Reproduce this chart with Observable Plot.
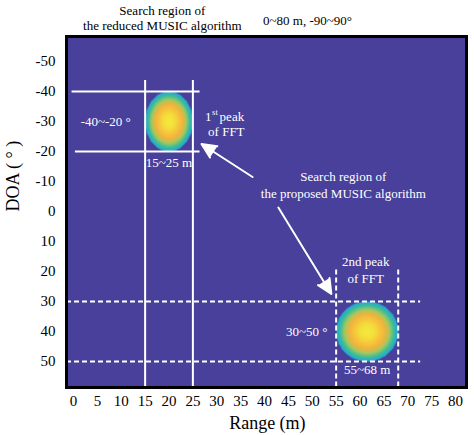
<!DOCTYPE html>
<html>
<head>
<meta charset="utf-8">
<script src="https://cdn.jsdelivr.net/npm/d3@7"></script>
<script src="https://cdn.jsdelivr.net/npm/@observablehq/plot@0.6"></script>
<style>
  body { margin: 0; background: #fff; }
</style>
</head>
<body>
<div id="chart"></div>
<script>
// Axis ticks
const rangeTicks = d3.range(0, 81, 5);      // m
const doaTicks = d3.range(-50, 51, 10);     // degrees

// Search boxes around the two FFT peaks
const peakRangeLo = [15, 55];
const peakRangeHi = [25, 68];
const peakDoaLo = [-40, 30];
const peakDoaHi = [-20, 50];

// Colour ramp for the peak intensity (cyan edge to yellow top)
const rampStops = [0.35, 0.48, 0.62, 0.76, 0.9, 1];
const rampColors = ["#1fa6d6", "#3dbd9a", "#a6c85c", "#f2b23e", "#f6c83a", "#f3e73c"];

const bg = "#48409a";
const white = "#ffffff";

// Intensity of a peak at (x, y): smooth falloff, cut at the box-inscribed ellipse
function field(x, y) {
  let best;
  for (let i = 0; i < peakRangeLo.length; ++i) {
    const cx = (peakRangeLo[i] + peakRangeHi[i]) / 2;
    const cy = (peakDoaLo[i] + peakDoaHi[i]) / 2;
    const ax = (peakRangeHi[i] - peakRangeLo[i]) / 2;
    const ay = (peakDoaHi[i] - peakDoaLo[i]) / 2;
    const r2 = ((x - cx) / ax) ** 2 + ((y - cy) / ay) ** 2;
    if (r2 <= 1) {
      const v = Math.exp(-1.05 * Math.pow(r2, 1.2));
      if (best === undefined || v > best) best = v;
    }
  }
  return best;
}

const xMin = -1.466, xMax = 82.3;
const yMin = -58.33, yMax = 58.67;

// Solid lines: reduced MUSIC search box around the 1st peak
const solidH = [peakDoaLo[0], peakDoaHi[0]];
const solidV = [peakRangeLo[0], peakRangeHi[0]];
// Dashed lines: proposed MUSIC search box around the 2nd peak
const dashH = [peakDoaLo[1], peakDoaHi[1]];
const dashV = [peakRangeLo[1], peakRangeHi[1]];

const txt = (s, o) => Plot.text([s], {text: d => d, fill: white, fontSize: 13, ...o});

const chart = Plot.plot({
  width: 474,
  height: 435,
  marginLeft: 66,
  marginRight: 8,
  marginTop: 36,
  marginBottom: 48,
  style: {fontFamily: "Liberation Serif", fontSize: "15px", color: "black", background: "white"},
  x: {domain: [xMin, xMax]},
  y: {domain: [yMin, yMax], reverse: true},
  color: {type: "linear", domain: rampStops, range: rampColors, clamp: true},
  marks: [
    Plot.frame({fill: bg}),
    Plot.raster({fill: field, x1: xMin, x2: xMax, y1: yMin, y2: yMax, pixelSize: 1}),

    // reduced search region (solid)
    Plot.ruleY(solidH, {y: d => d, x1: (d, i) => (i === 0 ? -0.3 : 0.4), x2: peakRangeHi[0] + 1.5,
      stroke: white, strokeWidth: 2}),
    Plot.ruleX(solidV, {x: d => d, y1: peakDoaLo[0] - 3.7, y2: yMax, stroke: white, strokeWidth: 2}),

    // proposed search region (dashed)
    Plot.ruleY(dashH, {y: d => d, x1: xMin, x2: peakRangeHi[1] + 4.7,
      stroke: white, strokeWidth: 2, strokeDasharray: "5,3"}),
    Plot.ruleX(dashV, {x: d => d, y1: peakDoaLo[1] - 10.5, y2: yMax,
      stroke: white, strokeWidth: 2, strokeDasharray: "5,3"}),

    // annotations inside the plot
    txt(`${peakDoaLo[0]}~${peakDoaHi[0]} °`, {x: 12, y: -30, textAnchor: "end"}),
    txt(`${peakRangeLo[0]}~${peakRangeHi[0]} m`, {x: 20, y: -16.3}),
    txt("1", {x: 30.6, y: -31.7, textAnchor: "end", dx: -8}),
    txt("st", {x: 30.6, y: -31.7, textAnchor: "start", dx: -7.5, dy: -4, fontSize: 8.5}),
    txt("peak", {x: 30.6, y: -31.7, textAnchor: "start"}),
    txt("of FFT", {x: 32, y: -26.7}),
    txt("Search region of\nthe proposed MUSIC algorithm", {x: 56.5, y: -9.2, lineHeight: 1.3}),
    txt("2nd peak\nof FFT", {x: 61.2, y: 19.3, lineHeight: 1.25}),
    txt(`${peakDoaLo[1]}~${peakDoaHi[1]} °`, {x: 53.2, y: 40, textAnchor: "end"}),
    txt(`${peakRangeLo[1]}~${peakRangeHi[1]} m`, {x: 61.5, y: 52.7}),

    Plot.arrow([0], {x1: 37.5, y1: -11.5, x2: 26.8, y2: -22.5,
      stroke: white, fill: white, strokeWidth: 2, headLength: 12, headAngle: 50}),
    Plot.arrow([0], {x1: 42.9, y1: -1.3, x2: 54, y2: 27.5,
      stroke: white, fill: white, strokeWidth: 2, headLength: 12, headAngle: 50}),

    Plot.frame({stroke: "black", strokeWidth: 3}),

    // axes
    Plot.axisX(rangeTicks, {tickSize: 0, tickPadding: 8, fontSize: 15, label: null, tickFormat: d => String(d)}),
    Plot.axisY(doaTicks, {tickSize: 0, tickPadding: 11, fontSize: 15, label: null, tickFormat: d => String(d)}),
    Plot.text(["Range (m)"], {text: d => d, x: 40.6, frameAnchor: "bottom", lineAnchor: "middle",
      dy: 36, fontSize: 18, fill: "black"}),
    Plot.text(["DOA ( ° )"], {text: d => d, y: 0, frameAnchor: "left", dx: -53, rotate: -90, fontSize: 18, fill: "black"}),

    // annotations above the plot
    Plot.text(["Search region of\nthe reduced MUSIC algorithm"], {text: d => d, x: 18.6, frameAnchor: "top",
      lineAnchor: "middle", dy: -18.5, fontSize: 13, lineHeight: 1.15, fill: "black"}),
    Plot.text(["0~80 m, -90~90°"], {text: d => d, x: 49, frameAnchor: "top", lineAnchor: "middle",
      dy: -16, fontSize: 13, fill: "black"})
  ]
});

document.getElementById("chart").append(chart);
</script>
</body>
</html>
